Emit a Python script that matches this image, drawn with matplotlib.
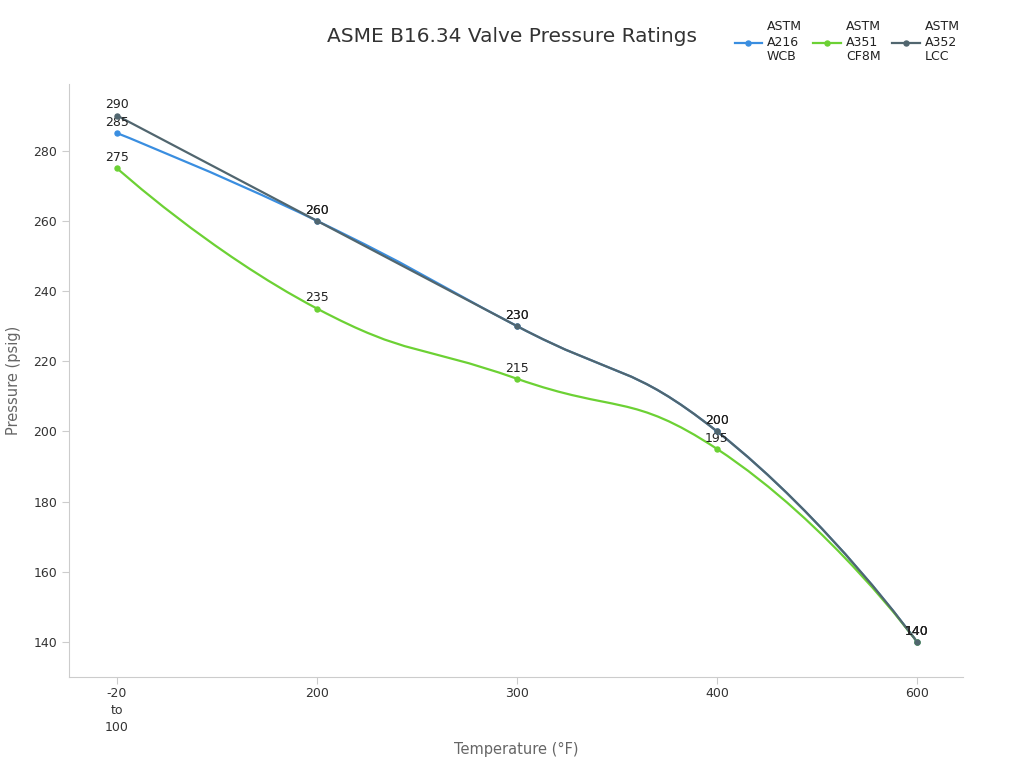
import numpy as np
import matplotlib
matplotlib.use("Agg")
import matplotlib.pyplot as plt
from matplotlib.path import Path
from matplotlib.patches import PathPatch
from matplotlib.lines import Line2D

plt.rcParams['font.family'] = ['DejaVu Sans']

# data
temps = ["-20\nto\n100", "200", "300", "400", "600"]
wcb = [285, 260, 230, 200, 140]
cf8m = [275, 235, 215, 195, 140]
lcc = [290, 260, 230, 200, 140]

series = [
    ("ASTM\nA216\nWCB", wcb, "#3a8ee0"),
    ("ASTM\nA351\nCF8M", cf8m, "#6cd134"),
    ("ASTM\nA352\nLCC", lcc, "#51666f"),
]

fig = plt.figure(figsize=(10.24, 7.68), dpi=100)
ax = fig.add_axes([69 / 1024, 1 - 677 / 768, 894 / 1024, 593 / 768])
ax.set_xlim(-0.24, 4.23)
ax.set_ylim(130, 299)


def smooth_path(xs, ys, smooth=0.5):
    # echarts-like bezier smoothing, done in pixel space
    pts = ax.transData.transform(np.column_stack([xs, ys]))
    n = len(pts)
    cp_out = [None] * n
    cp_in = [None] * n
    for i in range(n):
        p = pts[i]
        if i == 0 or i == n - 1:
            cp_out[i] = p
            cp_in[i] = p
            continue
        prev, nxt = pts[i - 1], pts[i + 1]
        v = nxt - prev
        l0 = np.hypot(*(p - prev))
        l1 = np.hypot(*(nxt - p))
        r = l1 / (l0 + l1)
        cp_in[i] = p - v * smooth * (1 - r)
        cp_out[i] = p + v * smooth * r
    verts = [pts[0]]
    codes = [Path.MOVETO]
    for i in range(1, n):
        verts += [cp_out[i - 1], cp_in[i], pts[i]]
        codes += [Path.CURVE4] * 3
    verts = ax.transData.inverted().transform(np.array(verts))
    return Path(verts, codes)


x = np.arange(len(temps))
handles = []
for name, vals, color in series:
    ax.add_patch(PathPatch(smooth_path(x, vals), fill=False, edgecolor=color,
                           lw=1.6, zorder=2))
    ax.plot(x, vals, "o", color=color, ms=3.6, zorder=3)
    for xi, v in zip(x, vals):
        ax.annotate(str(v), (xi, v), xytext=(0, 3), textcoords="offset points",
                    ha="center", va="bottom", fontsize=9, color="#222222")
    handles.append(Line2D([], [], color=color, lw=1.6, marker="o", ms=3.6, label=name))

ax.set_xticks(x)
ax.set_xticklabels(temps, linespacing=1.4)
ax.set_yticks(np.arange(140, 281, 20))
ax.tick_params(colors="#cccccc", labelcolor="#333333", labelsize=9, length=5)
ax.tick_params(axis="x", pad=2)
for s in ["top", "right"]:
    ax.spines[s].set_visible(False)
for s in ["left", "bottom"]:
    ax.spines[s].set_color("#cccccc")

ax.set_xlabel("Temperature (°F)", fontsize=10.5, color="#666666", labelpad=6)
ax.set_ylabel("Pressure (psig)", fontsize=10.5, color="#666666", labelpad=9)

fig.text(0.5, 1 - 36 / 768, "ASME B16.34 Valve Pressure Ratings", ha="center",
         va="center", fontsize=14.5, color="#333333")

fig.legend(handles=handles, ncol=3, loc="center right",
           bbox_to_anchor=(0.948, 1 - 42 / 768), frameon=False, fontsize=9,
           handlelength=2.2, handletextpad=0.4, columnspacing=0.9,
           labelcolor="#222222")

fig.savefig("out.png", dpi=100)
